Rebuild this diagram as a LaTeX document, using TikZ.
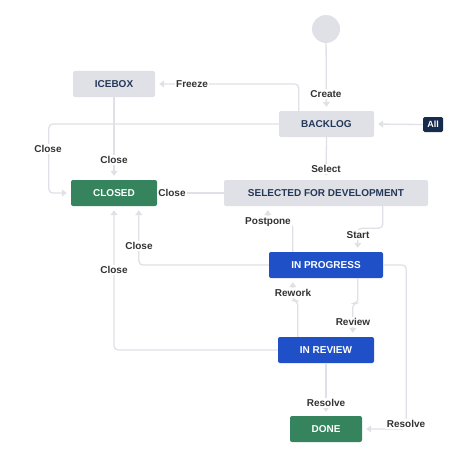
\documentclass[tikz,border=0pt]{standalone}
\usepackage{fontspec}
\setmainfont{Liberation Sans}
\usetikzlibrary{arrows.meta,calc}
\definecolor{gbox}{HTML}{DFE1E6}
\definecolor{gtext}{HTML}{253858}
\definecolor{gline}{HTML}{DFE1E6}
\definecolor{greenbox}{HTML}{36845D}
\definecolor{bluebox}{HTML}{1F50C8}
\definecolor{navy}{HTML}{172B4D}
\definecolor{lbltext}{HTML}{333333}
\tikzset{
  st/.style={rectangle, rounded corners=2pt, minimum height=26pt, inner sep=0pt,
    font=\bfseries\fontsize{10}{12}\selectfont},
  greyst/.style={st, fill=gbox, text=gtext},
  greenst/.style={st, fill=greenbox, text=white},
  bluest/.style={st, fill=bluebox, text=white},
  ln/.style={draw=gline, line width=1.3pt, rounded corners=4pt},
  arr/.style={ln, -{Triangle[width=7pt,length=5pt]}, shorten >=4pt},
  lbl/.style={fill=white, text=lbltext, inner sep=1.5pt,
    font=\bfseries\fontsize{10}{12}\selectfont},
}
\begin{document}
\begin{tikzpicture}[x=1pt,y=-1pt]
\useasboundingbox (0,0) rectangle (474,452);
% nodes
\node[circle, fill=gbox, minimum size=28pt, inner sep=0pt] (start) at (326,29) {};
\node[greyst, minimum width=82pt] (icebox) at (114,84) {ICEBOX};
\node[greyst, minimum width=95pt] (backlog) at (326.5,124) {BACKLOG};
\node[fill=navy, text=white, rounded corners=1.5pt, minimum width=20pt, minimum height=15pt, inner sep=0pt,
  font=\bfseries\fontsize{9}{10}\selectfont] (all) at (433,124.5) {All};
\node[greenst, minimum width=86pt] (closed) at (114,193) {CLOSED};
\node[greyst, minimum width=204pt] (selected) at (326,193) {SELECTED FOR DEVELOPMENT};
\node[bluest, minimum width=114pt] (inprogress) at (326,265) {IN PROGRESS};
\node[bluest, minimum width=96pt] (inreview) at (326,350) {IN REVIEW};
\node[greenst, minimum width=72pt] (done) at (326,429) {DONE};
% connectors
\draw[arr] (start) -- (backlog);
\draw[arr] ([xshift=20pt]backlog.north west) |- (icebox.east);
\draw[arr] (backlog.west) -- ++(-230,0) |- (closed.west);
\draw[arr] (icebox.south) -- (closed.north);
\draw[arr] (backlog.south) -- (selected.north);
\draw[arr] (selected.west) -- (closed.east);
\draw[arr] ([xshift=24pt]inprogress.north west) -- ++(0,-28) -| ([xshift=44pt]selected.south west);
\draw[arr] ([xshift=159pt]selected.south west) -- ++(0,22) -| ([xshift=89pt]inprogress.north west);
\draw[arr] (inprogress.west) -| ([xshift=68pt]closed.south west);
\draw[arr] (inreview.west) -| (closed.south);
\draw[arr] ([xshift=20pt]inreview.north west) -- ++(0,-36) -| ([xshift=24pt]inprogress.south west);
\draw[arr] ([xshift=89pt]inprogress.south west) -- ++(0,25) -| ([xshift=75pt]inreview.north west);
\draw[arr] (inreview.south) -- (done.north);
\draw[arr] (inprogress.east) -- ++(23,0) |- (done.east);
\draw[arr] (all.west) -- (backlog.east);
% labels
\node[lbl] (lcreate) at (326,94) {Create};
\node[lbl] (lfreeze) at (192,84) {Freeze};
\node[lbl] (lclose1) at (48,149) {Close};
\node[lbl] (lclose2) at (114,160) {Close};
\node[lbl] (lselect) at (326,169) {Select};
\node[lbl] (lclose3) at (172,193) {Close};
\node[lbl] (lpostpone) at (268,222) {Postpone};
\node[lbl] (lstart) at (358,235) {Start};
\node[lbl] (lclose4) at (139,246) {Close};
\node[lbl] (lclose5) at (114,270) {Close};
\node[lbl] (lrework) at (293,293) {Rework};
\node[lbl] (lreview) at (353,322) {Review};
\node[lbl] (lresolve1) at (326,403) {Resolve};
\node[lbl] (lresolve2) at (406,424) {Resolve};
\end{tikzpicture}
\end{document}
